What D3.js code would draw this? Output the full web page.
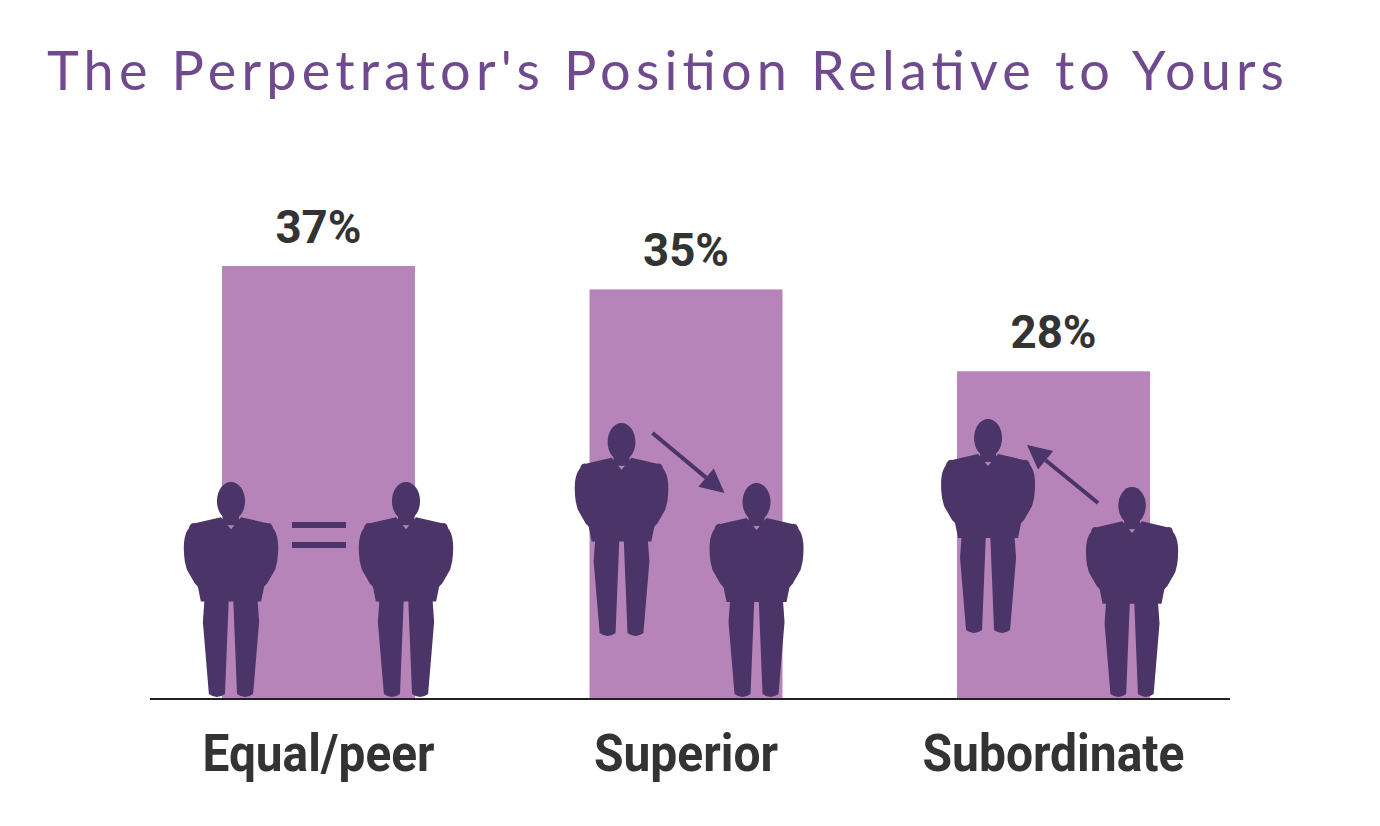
<!DOCTYPE html>
<html><head><meta charset="utf-8">
<script src="https://cdn.jsdelivr.net/npm/d3@7"></script>
<style>body{margin:0;background:#fff}</style></head>
<body><svg id="c" width="1380" height="826"></svg>
<script>
const categories = ["Equal/peer", "Superior", "Subordinate"];
const values = [37, 35, 28];
const valueLabels = ["37%", "35%", "28%"];

const svg = d3.select("#c");
const x = d3.scaleBand().domain(categories).range([222, 1150]).paddingInner(0.475).paddingOuter(0);
const y = d3.scaleLinear().domain([0, 37]).range([699, 266]);

svg.append("text").attr("x", 47).attr("y", 90).attr("fill", "#6f4a8e")
  .attr("font-family", "Lato, 'Open Sans', sans-serif").attr("font-size", 54).attr("font-weight", 400)
  .attr("textLength", 1237).text("The Perpetrator's Position Relative to Yours");

svg.selectAll("rect.bar").data(values).join("rect").attr("class", "bar")
  .attr("x", (d, i) => x(categories[i])).attr("width", x.bandwidth())
  .attr("y", d => y(d)).attr("height", d => y(0) - y(d)).attr("fill", "#b784b9");

svg.selectAll("text.val").data(values).join("text").attr("class", "val")
  .attr("x", (d, i) => x(categories[i]) + x.bandwidth() / 2)
  .attr("y", d => y(d) - 23).attr("text-anchor", "middle")
  .attr("font-family", "Roboto, sans-serif").attr("font-weight", 700).attr("font-size", 46)
  .attr("fill", "#333").attr("transform-origin", "center")
  .each(function(d, i){ d3.select(this).attr("textLength", 86).attr("lengthAdjust","spacingAndGlyphs"); })
  .text((d, i) => valueLabels[i]);

svg.append("line").attr("x1", 150).attr("x2", 1230).attr("y1", y(0)).attr("y2", y(0))
  .attr("stroke", "#222").attr("stroke-width", 2);

const catLen = [232, 184, 262];
svg.selectAll("text.cat").data(categories).join("text").attr("class", "cat")
  .attr("x", d => x(d) + x.bandwidth() / 2).attr("y", 771).attr("text-anchor", "middle")
  .attr("font-family", "Roboto, sans-serif").attr("font-weight", 700).attr("font-size", 52)
  .attr("fill", "#333").attr("textLength", (d, i) => catLen[i]).attr("lengthAdjust", "spacingAndGlyphs")
  .text(d => d);

const figColor = "#4a3468";
function person(cx, top, h) {
  const s = h / 216;
  const g = svg.append("g").attr("transform", `translate(${cx},${top}) scale(${s})`).attr("fill", figColor);
  g.append("ellipse").attr("cx", 0).attr("cy", 20).attr("rx", 14).attr("ry", 19);
  g.append("rect").attr("x", -8).attr("y", 30).attr("width", 16).attr("height", 14);
  // torso
  g.append("path").attr("d", "M-36,42 Q-44,40 -42,60 L-30,120 L30,120 L42,60 Q44,40 36,42 L10,36 L0,48 L-10,36 Z");
  // arms
  g.append("path").attr("d", "M-38,44 Q-50,50 -46,80 L-44,88 L-36,102 L-28,110 L-24,98 L-34,84 L-34,60 Z");
  g.append("path").attr("d", "M38,44 Q50,50 46,80 L44,88 L36,102 L28,110 L24,98 L34,84 L34,60 Z");
  // legs
  g.append("path").attr("d", "M-26,112 L-2,112 L-6,212 Q-14,218 -22,212 L-28,140 Z");
  g.append("path").attr("d", "M26,112 L2,112 L6,212 Q14,218 22,212 L28,140 Z");
}
const b = categories.map(c => x(c));
person(b[0] + 9, 481, 217);
person(b[0] + 184, 481, 217);
person(b[1] + 32, 422, 215);
person(b[1] + 167, 482, 216);
person(b[2] + 31, 418, 216);
person(b[2] + 175, 486, 212);

// equal sign
[525, 545].forEach(yy => svg.append("rect").attr("x", b[0] + 70).attr("y", yy - 3).attr("width", 54).attr("height", 6).attr("fill", figColor));

function arrow(x1, y1, x2, y2) {
  const ang = Math.atan2(y2 - y1, x2 - x1);
  const L = 24, W = 12;
  const bx = x2 - L * Math.cos(ang), by = y2 - L * Math.sin(ang);
  svg.append("line").attr("x1", x1).attr("y1", y1).attr("x2", bx).attr("y2", by).attr("stroke", figColor).attr("stroke-width", 4);
  const px = -Math.sin(ang) * W, py = Math.cos(ang) * W;
  svg.append("path").attr("d", `M${x2},${y2} L${bx + px},${by + py} L${bx - px},${by - py} Z`).attr("fill", figColor);
}
arrow(b[1] + 63, 433, b[1] + 135, 493);
arrow(b[2] + 141, 503, b[2] + 70, 445);
</script></body></html>
